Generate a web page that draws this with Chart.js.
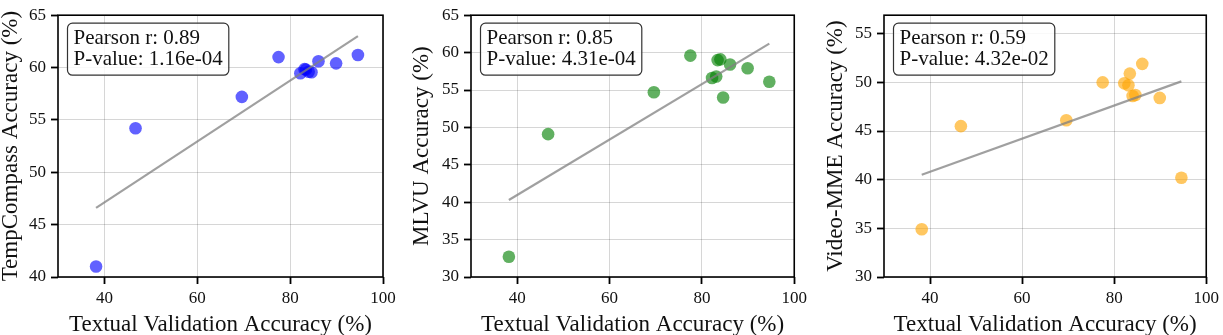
<!DOCTYPE html>
<html>
<head>
<meta charset="utf-8">
<script src="https://cdn.jsdelivr.net/npm/chart.js@4.4.0/dist/chart.umd.min.js"></script>
<style>
  html, body { margin: 0; padding: 0; background: #fff; }
  body { width: 1223px; height: 335px; position: relative; overflow: hidden; }
  canvas { position: absolute; top: 0; }
</style>
</head>
<body>
<canvas id="chart1" width="400" height="335" style="left:0px"></canvas>
<canvas id="chart2" width="400" height="335" style="left:411px"></canvas>
<canvas id="chart3" width="398" height="335" style="left:825px"></canvas>
<script>
// Data (same x values for every panel)
const textualAcc = [38.2, 46.7, 69.6, 77.5, 82.2, 83.1, 83.4, 84.0, 84.6, 86.1, 89.9, 94.6];
const tempCompassAcc = [41.0, 54.2, 57.2, 61.0, 59.45, 59.85, 59.8, 59.6, 59.55, 60.6, 60.4, 61.2];
const mlvuAcc = [32.7, 49.1, 54.7, 59.6, 56.6, 56.8, 59.0, 59.1, 54.0, 58.4, 57.9, 56.1];
const videoMmeAcc = [34.9, 45.5, 46.1, 50.0, 49.9, 49.7, 50.9, 48.6, 48.7, 51.9, 48.4, 40.2];

// Regression line ends (y at min / max of textualAcc)
const tempCompassFit = [46.6, 63.0];
const mlvuFit = [40.3, 61.2];
const videoMmeFit = [40.5, 50.1];

const pearsonR = ['0.89', '0.85', '0.59'];
const pValues = ['1.16e-04', '4.31e-04', '4.32e-02'];

// tick labels
const xTicks = [40, 60, 80, 100];
const tempCompassTicks = [40, 45, 50, 55, 60, 65];
const mlvuTicks = [30, 35, 40, 45, 50, 55, 60, 65];
const videoMmeTicks = [30, 35, 40, 45, 50, 55];
const yLabels = ['TempCompass Accuracy (%)', 'MLVU Accuracy (%)', 'Video-MME Accuracy (%)'];

const serif = '"Liberation Serif", "Times New Roman", serif';

// axes frame (all four spines)
const spines = {
  id: 'spines',
  afterDatasetsDraw(chart) {
    const { ctx, chartArea: a } = chart;
    ctx.save();
    ctx.strokeStyle = '#000';
    ctx.lineWidth = 1.6;
    ctx.strokeRect(a.left, a.top, a.right - a.left, a.bottom - a.top);
    ctx.restore();
  }
};

// Pearson / p-value box in the upper left corner
const statsBox = {
  id: 'statsBox',
  afterDraw(chart, args, opts) {
    const { ctx, chartArea } = chart;
    const lines = opts.lines;
    ctx.save();
    ctx.font = '21px ' + serif;
    const w = Math.max(...lines.map(l => ctx.measureText(l).width)) + 12;
    const x = chartArea.left + 9.5;
    const y = chartArea.top + 8;
    ctx.beginPath();
    ctx.roundRect(x, y, w, 52, 5);
    ctx.fillStyle = 'rgba(255,255,255,0.85)';
    ctx.fill();
    ctx.strokeStyle = '#333';
    ctx.lineWidth = 1.2;
    ctx.stroke();
    ctx.fillStyle = '#111';
    ctx.textBaseline = 'alphabetic';
    lines.forEach((l, i) => ctx.fillText(l, x + 6, y + 20.5 + i * 21.5));
    ctx.restore();
  }
};

function makeChart(id, values, fit, color, yMin, yMax, yTicks, yTitle, r, p, yAxisWidth, rightPad) {
  const points = textualAcc.map((x, i) => ({ x: x, y: values[i] }));
  const xMin = Math.min(...textualAcc);
  const xMax = Math.max(...textualAcc);
  const fitLine = [{ x: xMin, y: fit[0] }, { x: xMax, y: fit[1] }];

  return new Chart(document.getElementById(id), {
    type: 'scatter',
    data: {
      datasets: [
        {
          data: fitLine,
          showLine: true,
          borderColor: 'rgba(128,128,128,0.75)',
          borderWidth: 2.2,
          pointRadius: 0
        },
        {
          data: points,
          backgroundColor: color,
          borderWidth: 0,
          pointRadius: 6.3
        }
      ]
    },
    options: {
      responsive: false,
      devicePixelRatio: 1,
      animation: false,
      layout: { padding: { top: 10, right: rightPad, bottom: 0, left: 0 } },
      plugins: {
        legend: { display: false },
        tooltip: { enabled: false },
        statsBox: { lines: ['Pearson r: ' + r, 'P-value: ' + p] }
      },
      scales: {
        x: {
          type: 'linear',
          min: 30,
          max: 100,
          afterBuildTicks: scale => { scale.ticks = xTicks.map(v => ({ value: v })); },
          afterFit: scale => { scale.height = 58; },
          grid: { color: 'rgba(0,0,0,0.16)', lineWidth: 1, tickColor: '#000', tickWidth: 1.8, tickLength: 7 },
          border: { display: false },
          ticks: { color: '#111', font: { family: serif, size: 17 }, padding: 4, maxRotation: 0, autoSkip: false },
          title: {
            display: true,
            text: 'Textual Validation Accuracy (%)',
            color: '#111',
            font: { family: serif, size: 23, lineHeight: 1 },
            padding: { top: 0, bottom: -1 }
          }
        },
        y: {
          type: 'linear',
          min: yMin,
          max: yMax,
          afterBuildTicks: scale => { scale.ticks = yTicks.map(v => ({ value: v })); },
          afterFit: scale => { scale.width = yAxisWidth; },
          grid: { color: 'rgba(0,0,0,0.16)', lineWidth: 1, tickColor: '#000', tickWidth: 1.8, tickLength: 7 },
          border: { display: false },
          ticks: { color: '#111', font: { family: serif, size: 17 }, padding: 5, autoSkip: false },
          title: {
            display: true,
            text: yTitle,
            color: '#111',
            font: { family: serif, size: 23, lineHeight: 1 },
            padding: { top: -1, bottom: 0 }
          }
        }
      }
    },
    plugins: [spines, statsBox]
  });
}

makeChart('chart1', tempCompassAcc, tempCompassFit, 'rgba(0,0,255,0.62)', 40, 65, tempCompassTicks, yLabels[0], pearsonR[0], pValues[0], 58, 17);
makeChart('chart2', mlvuAcc, mlvuFit, 'rgba(0,128,0,0.62)', 30, 65, mlvuTicks, yLabels[1], pearsonR[1], pValues[1], 60, 15);
makeChart('chart3', videoMmeAcc, videoMmeFit, 'rgba(255,165,0,0.62)', 30, 56.9, videoMmeTicks, yLabels[2], pearsonR[2], pValues[2], 59, 16);
</script>
</body>
</html>
